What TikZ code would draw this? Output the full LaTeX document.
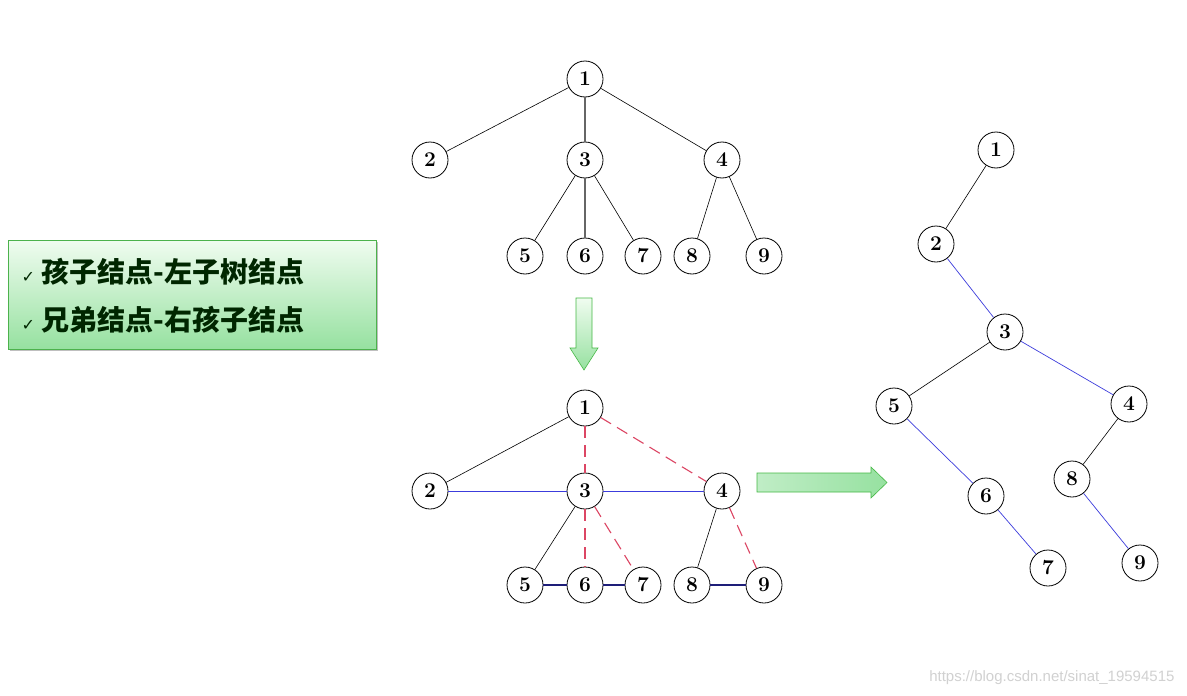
\documentclass[tikz,border=0pt]{standalone}
\usepackage{fontspec}
\newfontfamily\cjk{Noto Sans CJK SC}
\newfontfamily\dv{DejaVu Sans}
\newfontfamily\lib{Liberation Sans}
\usetikzlibrary{shadows}
\definecolor{bl}{RGB}{60,60,220}
\definecolor{dbl}{RGB}{30,30,120}
\definecolor{rd}{RGB}{220,70,100}
\definecolor{gtop}{RGB}{240,252,240}
\definecolor{gbot}{RGB}{150,225,160}
\begin{document}
\begin{tikzpicture}[x=1pt,y=-1pt,
 nd/.style={circle,draw,line width=0.8pt,minimum size=36pt,inner sep=0pt,font=\bfseries\fontsize{21}{21}\selectfont},
 k/.style={line width=0.6pt},
 b/.style={bl,line width=0.7pt},
 db/.style={dbl,line width=1.4pt},
 r/.style={rd,line width=1.1pt,dash pattern=on 12pt off 7pt},
 g/.style={gray!80!black,line width=1.8pt},
 lbl/.style={anchor=west,font=\cjk\bfseries\fontsize{28}{28}\selectfont,text=black!85!green},
 arr/.style={draw=green!45!gray,line width=0.6pt}]
\useasboundingbox (0,0) rectangle (1187,696);
\fill[white] (0,0) rectangle (1187,696);
% green box
\node[draw=green!40!gray,top color=gtop,bottom color=gbot,drop shadow,minimum width=368pt,minimum height=109pt,inner sep=0pt] (box) at (192,294.5) {};
\node[lbl] (t1) at (18,272) {{\dv\fontsize{16}{16}\selectfont ✓}\ 孩子结点-左子树结点};
\node[lbl] (t2) at (18,320) {{\dv\fontsize{16}{16}\selectfont ✓}\ 兄弟结点-右孩子结点};
% arrows
\path[arr,top color=gtop,bottom color=gbot] (576,298)--(592,298)--(592,348)--(598,348)--(584,370)--(570,348)--(576,348)--cycle;
\path[arr,left color=gbot!60!white,right color=gbot] (757,473)--(871,473)--(871,467)--(887,482.5)--(871,498)--(871,492)--(757,492)--cycle;
% top tree
\foreach \n/\x/\y in {1/585/79,2/430/160,3/585/160,4/722/160,5/525/256,6/585/256,7/643/256,8/692/256,9/764/256}
  \node[nd] (a\n) at (\x,\y) {\n};
\draw[k] (a1)--(a2); \draw[g] (a1)--(a3); \draw[k] (a1)--(a4);
\draw[k] (a3)--(a5); \draw[g] (a3)--(a6); \draw[k] (a3)--(a7);
\draw[k] (a4)--(a8); \draw[k] (a4)--(a9);
% middle tree
\foreach \n/\x/\y in {1/585/408,2/430/491,3/585/491,4/722/491,5/525/585,6/585/585,7/643/585,8/692/585,9/764/585}
  \node[nd] (m\n) at (\x,\y) {\n};
\draw[k] (m1)--(m2); \draw[b] (m2)--(m3); \draw[b] (m3)--(m4);
\draw[k] (m3)--(m5); \draw[k] (m4)--(m8);
\draw[db] (m5)--(m6); \draw[db] (m6)--(m7); \draw[db] (m8)--(m9);
\draw[r] (m1)--(m3); \draw[r] (m1)--(m4); \draw[r] (m3)--(m6); \draw[r] (m3)--(m7); \draw[r] (m4)--(m9);
% right tree
\foreach \n/\x/\y in {1/996/150,2/936/244,3/1005/332,5/894/406,4/1129/404,6/986/496,8/1072/479,7/1048/568,9/1140/563}
  \node[nd] (c\n) at (\x,\y) {\n};
\draw[k] (c1)--(c2); \draw[b] (c2)--(c3); \draw[k] (c3)--(c5); \draw[b] (c3)--(c4);
\draw[b] (c5)--(c6); \draw[b] (c6)--(c7); \draw[k] (c4)--(c8); \draw[b] (c8)--(c9);
\node[anchor=east,text=black!18,font=\lib\fontsize{15}{15}\selectfont] (wm) at (1178,678) {https://blog.csdn.net/sinat\_19594515};
\end{tikzpicture}
\end{document}
